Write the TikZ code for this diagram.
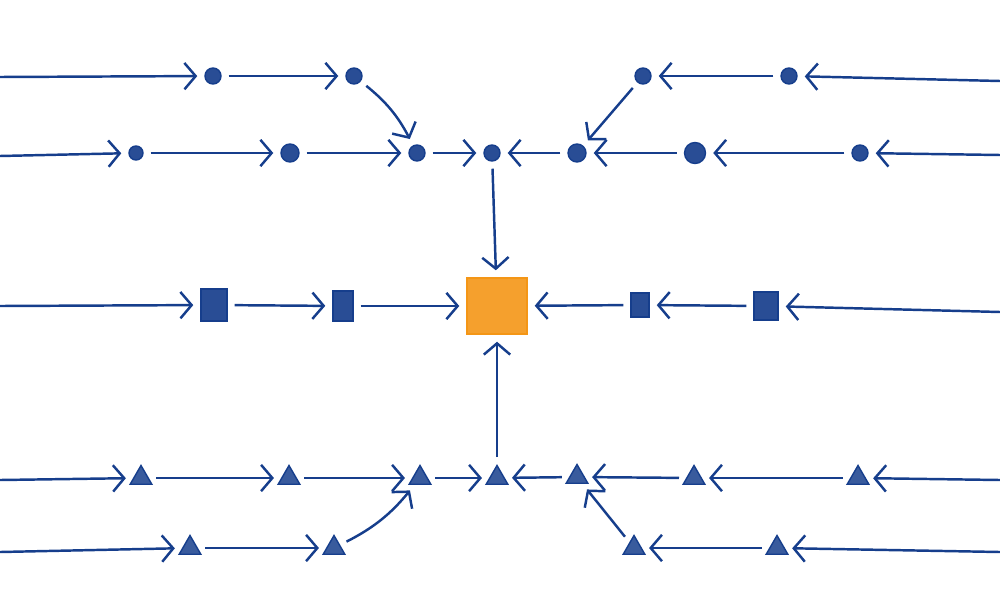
\documentclass[tikz,border=0pt]{standalone}
\usepackage{tikz}
\usetikzlibrary{shapes.geometric,arrows.meta}
\definecolor{myblue}{RGB}{22,62,140}
\definecolor{myorange}{RGB}{244,150,22}
\tikzset{
  dot/.style={circle,draw=myblue,fill=myblue!92,inner sep=0pt,minimum size=0.16cm},
  tri/.style={regular polygon,regular polygon sides=3,draw=myblue,fill=myblue!85,inner sep=0pt,minimum size=0.25cm},
  sq/.style={rectangle,draw=myblue,fill=myblue!92,inner sep=0pt},
  link/.style={->,line width=0.7pt,myblue,shorten >=2pt,shorten <=2pt},
  edge/.style={link,shorten <=0pt}
}
\begin{document}
\begin{tikzpicture}[>={Straight Barb[length=3.2pt,width=7.5pt]}]
            \useasboundingbox (0,0) rectangle (10,6);
            % circles
            \node[dot] (c1) at (2.13,5.24) {};
            \node[dot] (c2) at (3.54,5.24) {};
            \node[dot] (c3) at (6.43,5.24) {};
            \node[dot] (c4) at (7.89,5.24) {};
            \node[dot,minimum size=0.14cm] (d1) at (1.36,4.47) {};
            \node[dot,minimum size=0.18cm] (d2) at (2.90,4.47) {};
            \node[dot] (d3) at (4.17,4.47) {};
            \node[dot] (d4) at (4.92,4.47) {};
            \node[dot,minimum size=0.18cm] (d5) at (5.77,4.47) {};
            \node[dot,minimum size=0.21cm] (d6) at (6.95,4.47) {};
            \node[dot] (d7) at (8.60,4.47) {};
            % squares
            \node[sq,minimum width=0.26cm,minimum height=0.32cm] (s1) at (2.14,2.95) {};
            \node[sq,minimum width=0.20cm,minimum height=0.30cm] (s2) at (3.43,2.94) {};
            \node[rectangle,draw=myorange,fill=myorange!90,minimum width=0.60cm,minimum height=0.56cm] (hub) at (4.97,2.94) {};
            \node[sq,minimum width=0.18cm,minimum height=0.24cm] (s3) at (6.40,2.95) {};
            \node[sq,minimum width=0.24cm,minimum height=0.28cm] (s4) at (7.66,2.94) {};
            % triangles
            \node[tri] (t1) at (1.41,1.22) {};
            \node[tri] (t2) at (2.89,1.22) {};
            \node[tri] (t3) at (4.20,1.22) {};
            \node[tri] (t4) at (4.97,1.22) {};
            \node[tri] (t5) at (5.77,1.23) {};
            \node[tri] (t6) at (6.94,1.22) {};
            \node[tri] (t7) at (8.58,1.22) {};
            \node[tri] (u1) at (1.90,0.52) {};
            \node[tri] (u2) at (3.34,0.52) {};
            \node[tri] (u3) at (6.34,0.52) {};
            \node[tri] (u4) at (7.77,0.52) {};
            % free ends at the edges
            \coordinate (l1) at (0,5.23); \coordinate (r1) at (10,5.19);
            \coordinate (l2) at (0,4.44); \coordinate (r2) at (10,4.45);
            \coordinate (l3) at (0,2.94); \coordinate (r3) at (10,2.88);
            \coordinate (l4) at (0,1.20); \coordinate (r4) at (10,1.20);
            \coordinate (l5) at (0,0.48); \coordinate (r5) at (10,0.48);
            % top rows
            \draw[edge] (l1) -- (c1);
            \draw[link] (c1) -- (c2);
            \draw[link] (c2) to[bend left=12] (d3);
            \draw[edge] (r1) -- (c4);
            \draw[link] (c4) -- (c3);
            \draw[link] (c3) -- (d5);
            \draw[edge] (l2) -- (d1);
            \draw[link] (d1) -- (d2);
            \draw[link] (d2) -- (d3);
            \draw[link] (d3) -- (d4);
            \draw[link] (d5) -- (d4);
            \draw[link] (d6) -- (d5);
            \draw[link] (d7) -- (d6);
            \draw[edge] (r2) -- (d7);
            \draw[link] (d4) -- (hub);
            % middle row
            \draw[edge] (l3) -- (s1);
            \draw[link] (s1) -- (s2);
            \draw[link] (s2) -- (hub);
            \draw[link] (s3) -- (hub);
            \draw[link] (s4) -- (s3);
            \draw[edge] (r3) -- (s4);
            % bottom rows
            \draw[edge] (l4) -- (t1);
            \draw[link] (t1) -- (t2);
            \draw[link] (t2) -- (t3);
            \draw[link] (t3) -- (t4);
            \draw[link] (t5) -- (t4);
            \draw[link] (t6) -- (t5);
            \draw[link] (t7) -- (t6);
            \draw[edge] (r4) -- (t7);
            \draw[link] (t4) -- (hub);
            \draw[edge] (l5) -- (u1);
            \draw[link] (u1) -- (u2);
            \draw[link] (u2) to[bend right=12] (t3);
            \draw[link] (u3) -- (t5);
            \draw[link] (u4) -- (u3);
            \draw[edge] (r5) -- (u4);
        \end{tikzpicture}
\end{document}
